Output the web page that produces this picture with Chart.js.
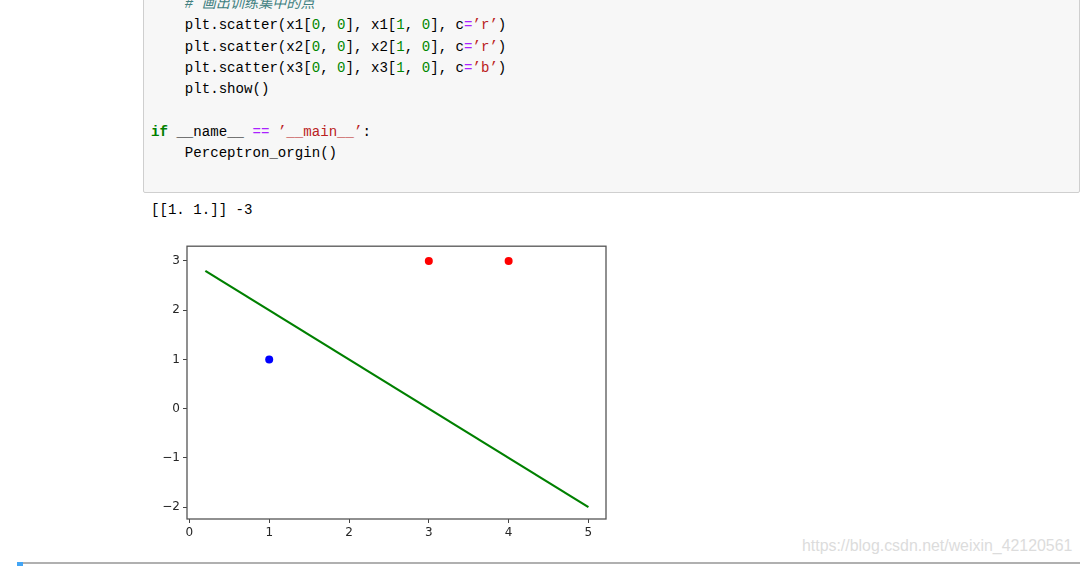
<!DOCTYPE html>
<html>
<head>
<meta charset="utf-8">
<script src="https://cdn.jsdelivr.net/npm/chart.js@4/dist/chart.umd.min.js"></script>
<style>
  html, body { margin:0; padding:0; width:1080px; height:566px; overflow:hidden; background:#fff; position:relative; }
  .cell { position:absolute; left:143px; top:-10px; width:935px; height:201px; background:#f7f7f7; border:1px solid #cfcfcf; border-radius:2px; }
  pre { margin:0; font-family:"Liberation Mono", "Noto Sans CJK SC", monospace; font-size:14.1px; line-height:21.33px; color:#000; position:absolute; white-space:pre; }
  #code { left:151px; top:-6px; }
  #out { left:151px; top:199.5px; }
  .cm { color:#408080; font-style:italic; }
  .n { color:#008800; }
  .o { color:#aa22ff; }
  .s { color:#ba2121; }
  .k { color:#008000; font-weight:bold; }
  #wrap { position:absolute; left:140px; top:236px; width:480px; height:310px; }
  #wm { position:absolute; left:802px; top:537px; font-family:"Liberation Sans", Arial, sans-serif; font-size:15.9px; color:#dcdcdc; white-space:nowrap; }
  #hr { position:absolute; left:17px; top:562px; width:1063px; height:2px; background:#b0b0b0; }
  #blue { position:absolute; left:17px; top:562px; width:6px; height:4px; background:#42a5f5; }
</style>
</head>
<body>
<div class="cell"></div>
<pre id="code">    <span class="cm"># 画出训练集中的点</span>
    plt.scatter(x1[<span class="n">0</span>, <span class="n">0</span>], x1[<span class="n">1</span>, <span class="n">0</span>], c<span class="o">=</span><span class="s">’r’</span>)
    plt.scatter(x2[<span class="n">0</span>, <span class="n">0</span>], x2[<span class="n">1</span>, <span class="n">0</span>], c<span class="o">=</span><span class="s">’r’</span>)
    plt.scatter(x3[<span class="n">0</span>, <span class="n">0</span>], x3[<span class="n">1</span>, <span class="n">0</span>], c<span class="o">=</span><span class="s">’b’</span>)
    plt.show()

<span class="k">if</span> __name__ <span class="o">==</span> <span class="s">’__main__’</span>:
    Perceptron_orgin()</pre>
<pre id="out">[[1. 1.]] -3</pre>
<div id="wrap"><canvas id="c"></canvas></div>
<div id="wm">https://blog.csdn.net/weixin_42120561</div>
<div id="hr"></div>
<div id="blue"></div>
<script>
// ---- data ----
const lineX = [0.2, 5];
const lineY = [2.8, -2];
const redX = [3, 4];
const redY = [3, 3];
const blueX = [1];
const blueY = [1];
const xTickValues = [0, 1, 2, 3, 4, 5];
const yTickValues = [-2, -1, 0, 1, 2, 3];
const xRange = [-0.03, 5.22];
const yRange = [-2.24, 3.3];

const toPts = (xs, ys) => xs.map((x, i) => ({x: x, y: ys[i]}));
const fmt = v => String(v).replace('-', '\u2212');

const framePlugin = {
  id: 'frame',
  afterDatasetsDraw(chart) {
    const a = chart.chartArea, ctx = chart.ctx;
    ctx.save();
    ctx.strokeStyle = '#555';
    ctx.lineWidth = 1.3;
    ctx.strokeRect(a.left, a.top, a.right - a.left, a.bottom - a.top);
    ctx.restore();
  }
};

const axisCommon = {
  type: 'linear',
  border: { display: false },
  grid: { drawOnChartArea: false, drawTicks: true, tickLength: 4, tickColor: '#444', tickWidth: 1 },
  ticks: { font: { family: 'DejaVu Sans', size: 12 }, color: '#262626', padding: 3, includeBounds: false, stepSize: 1, autoSkip: false, maxRotation: 0,
           callback: v => fmt(v) }
};

new Chart(document.getElementById('c'), {
  type: 'scatter',
  data: {
    datasets: [
      { data: toPts(redX, redY), backgroundColor: '#ff0000', borderColor: '#ff0000', pointRadius: 4, pointHoverRadius: 4, borderWidth: 0 },
      { data: toPts(blueX, blueY), backgroundColor: '#0000ff', borderColor: '#0000ff', pointRadius: 4, pointHoverRadius: 4, borderWidth: 0 },
      { data: toPts(lineX, lineY), showLine: true, borderColor: '#008000', borderWidth: 2.2, pointRadius: 0, fill: false }
    ]
  },
  options: {
    responsive: true,
    maintainAspectRatio: false,
    animation: false,
    events: [],
    layout: { padding: { top: 10, right: 14, left: 0, bottom: 0 } },
    plugins: { legend: { display: false }, tooltip: { enabled: false } },
    scales: {
      x: Object.assign({}, axisCommon, {
        min: xRange[0], max: xRange[1],
        afterBuildTicks: s => { s.ticks = xTickValues.map(v => ({value: v})); },
        afterFit: s => { s.height = 27; }
      }),
      y: Object.assign({}, axisCommon, {
        min: yRange[0], max: yRange[1],
        afterBuildTicks: s => { s.ticks = yTickValues.map(v => ({value: v})); },
        afterFit: s => { s.width = 47; }
      })
    }
  },
  plugins: [framePlugin]
});
</script>
</body>
</html>
